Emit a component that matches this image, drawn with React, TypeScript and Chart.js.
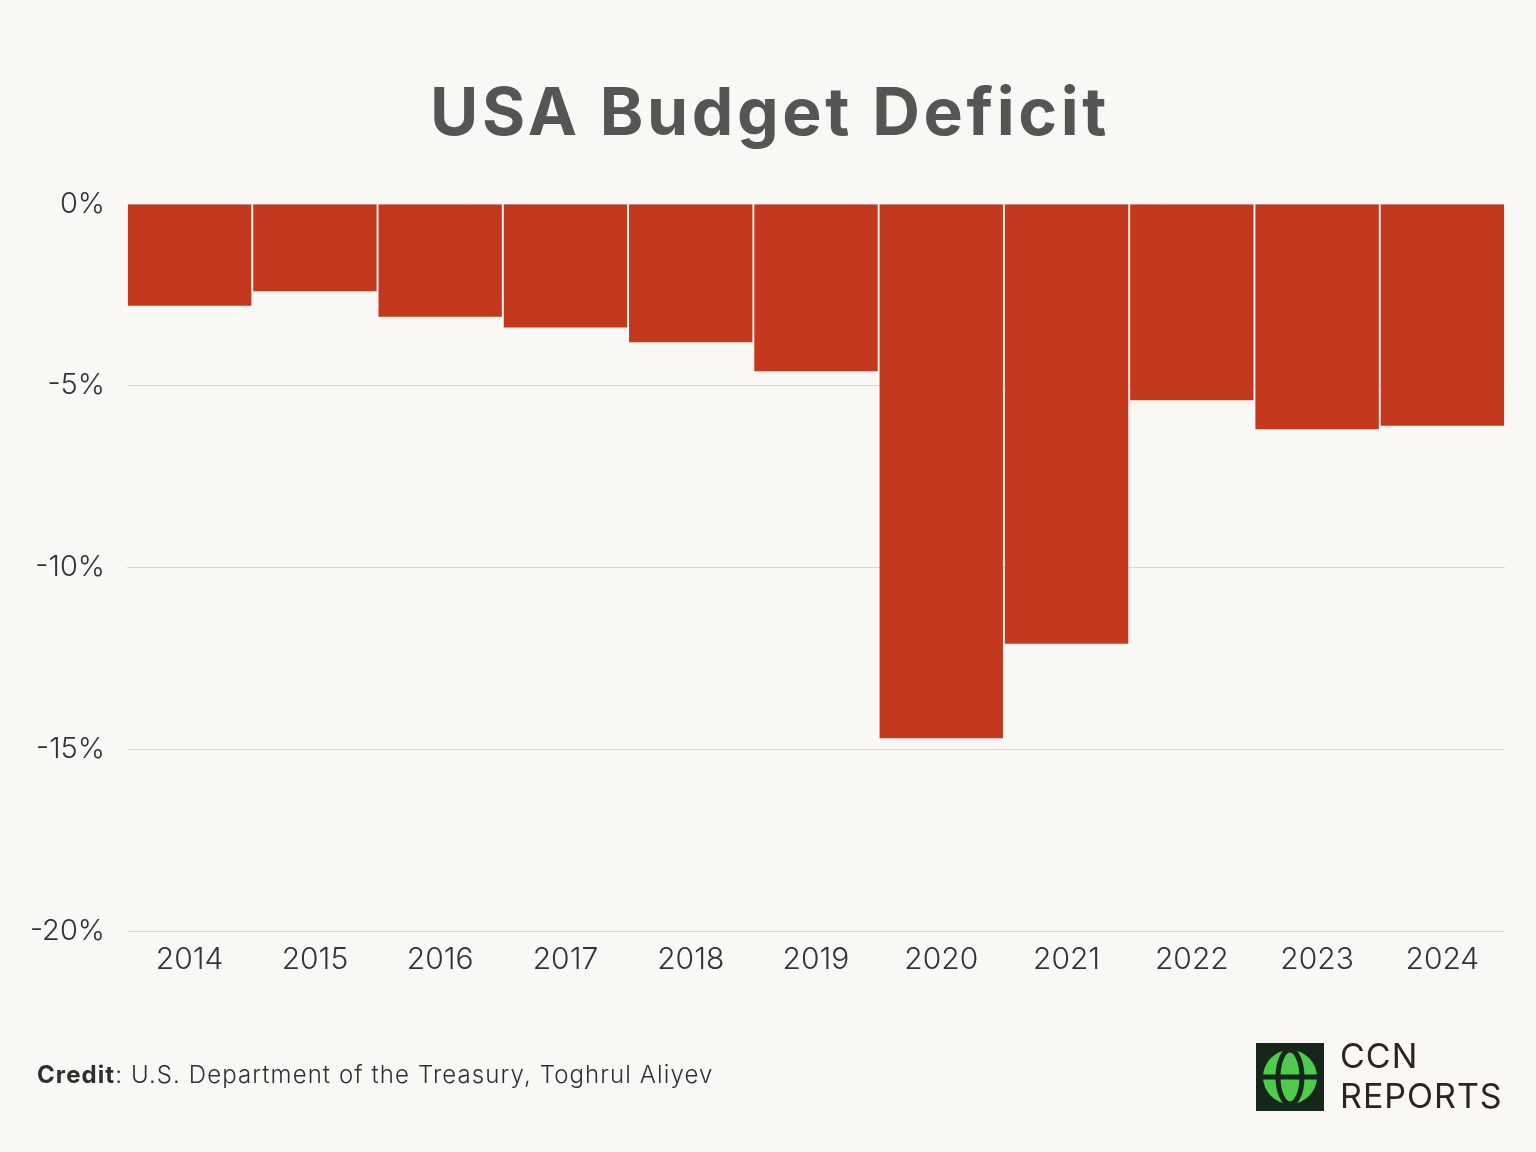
import React, { useEffect, useRef } from "react";
import { Chart, registerables } from "chart.js";

Chart.register(...registerables);

const years = ["2014", "2015", "2016", "2017", "2018", "2019", "2020", "2021", "2022", "2023", "2024"];
const deficitPct = [-2.8, -2.4, -3.1, -3.4, -3.8, -4.6, -14.7, -12.1, -5.4, -6.2, -6.1];
const yTicks = [0, -5, -10, -15, -20];

const titleText = "USA Budget Deficit";
const creditLabel = "Credit";
const creditText = ": U.S. Department of the Treasury, Toghrul Aliyev";

const BG = "#FAF8F4";
const BAR = "#C4391D";

const titlePlugin = {
  id: "titleDraw",
  beforeDraw(chart: any) {
    const { ctx, width } = chart;
    ctx.save();
    ctx.fillStyle = BG;
    ctx.fillRect(0, 0, chart.width, chart.height);
    ctx.fillStyle = "#555555";
    ctx.font = "700 66px Inter, 'Open Sans', sans-serif";
    (ctx as any).letterSpacing = "3.6px";
    ctx.textAlign = "center";
    ctx.textBaseline = "middle";
    ctx.fillText(titleText, width / 2 + 2, 115);
    ctx.restore();
  },
};

export default function App() {
  const ref = useRef<HTMLCanvasElement>(null);
  useEffect(() => {
    document.body.style.margin = "0";
    document.body.style.background = BG;
    const chart = new Chart(ref.current!, {
      type: "bar",
      data: {
        labels: years,
        datasets: [
          {
            data: deficitPct,
            backgroundColor: BAR,
            borderWidth: 0,
            barPercentage: 0.985,
            categoryPercentage: 1,
          },
        ],
      },
      options: {
        animation: false,
        responsive: false,
        maintainAspectRatio: false,
        layout: { padding: { top: 204, right: 31, bottom: 0, left: 0 } },
        plugins: { legend: { display: false }, tooltip: { enabled: false } },
        scales: {
          x: {
            grid: { display: false, drawTicks: false },
            border: { display: false },
            ticks: {
              color: "#333333",
              font: { family: "Inter, Lato, sans-serif", size: 30, weight: 300 },
              padding: 11,
              maxRotation: 0,
            },
            afterFit: (s: any) => {
              s.height = 221;
            },
          },
          y: {
            min: -20,
            max: 0,
            afterBuildTicks: (s: any) => {
              s.ticks = yTicks.map((v) => ({ value: v }));
            },
            grid: { color: "#D8D8D4", lineWidth: 1, drawTicks: false },
            border: { display: false },
            ticks: {
              color: "#333333",
              font: { family: "Inter, Lato, sans-serif", size: 29, weight: 300 },
              padding: 22,
              callback: (v: any) => `${v}%`,
            },
            afterFit: (s: any) => {
              s.width = 127;
            },
          },
        },
      },
      plugins: [titlePlugin],
    });
    return () => chart.destroy();
  }, []);

  return (
    <div style={{ position: "relative", width: 1536, height: 1152, background: BG, overflow: "hidden" }}>
      <canvas ref={ref} width={1536} height={1152} style={{ display: "block", width: 1536, height: 1152 }} />
      <div
        style={{
          position: "absolute",
          left: 37,
          top: 1059,
          fontFamily: "Inter, Lato, sans-serif",
          fontSize: 24,
          color: "#2f2f2f",
          fontWeight: 300,
          whiteSpace: "nowrap",
          lineHeight: "32px",
          letterSpacing: "1.1px",
        }}
      >
        <span style={{ fontWeight: 700 }}>{creditLabel}</span>
        {creditText}
      </div>
      <div style={{ position: "absolute", left: 1256, top: 1043, width: 68, height: 68, background: "#15271A" }}>
        <svg width={68} height={68} viewBox="0 0 68 68">
          <circle cx={34} cy={34} r={27} fill="#4FCB4B" />
          <ellipse cx={34} cy={34} rx={12} ry={27} fill="none" stroke="#15271A" strokeWidth={5} />
          <line x1={6} y1={34} x2={62} y2={34} stroke="#15271A" strokeWidth={5} />
        </svg>
      </div>
      <div
        style={{
          position: "absolute",
          left: 1340,
          top: 1036,
          fontFamily: "Inter, Lato, sans-serif",
          fontSize: 34,
          fontWeight: 400,
          color: "#2a2522",
          lineHeight: "40px",
          letterSpacing: 1,
        }}
      >
        <div>CCN</div>
        <div>REPORTS</div>
      </div>
    </div>
  );
}
